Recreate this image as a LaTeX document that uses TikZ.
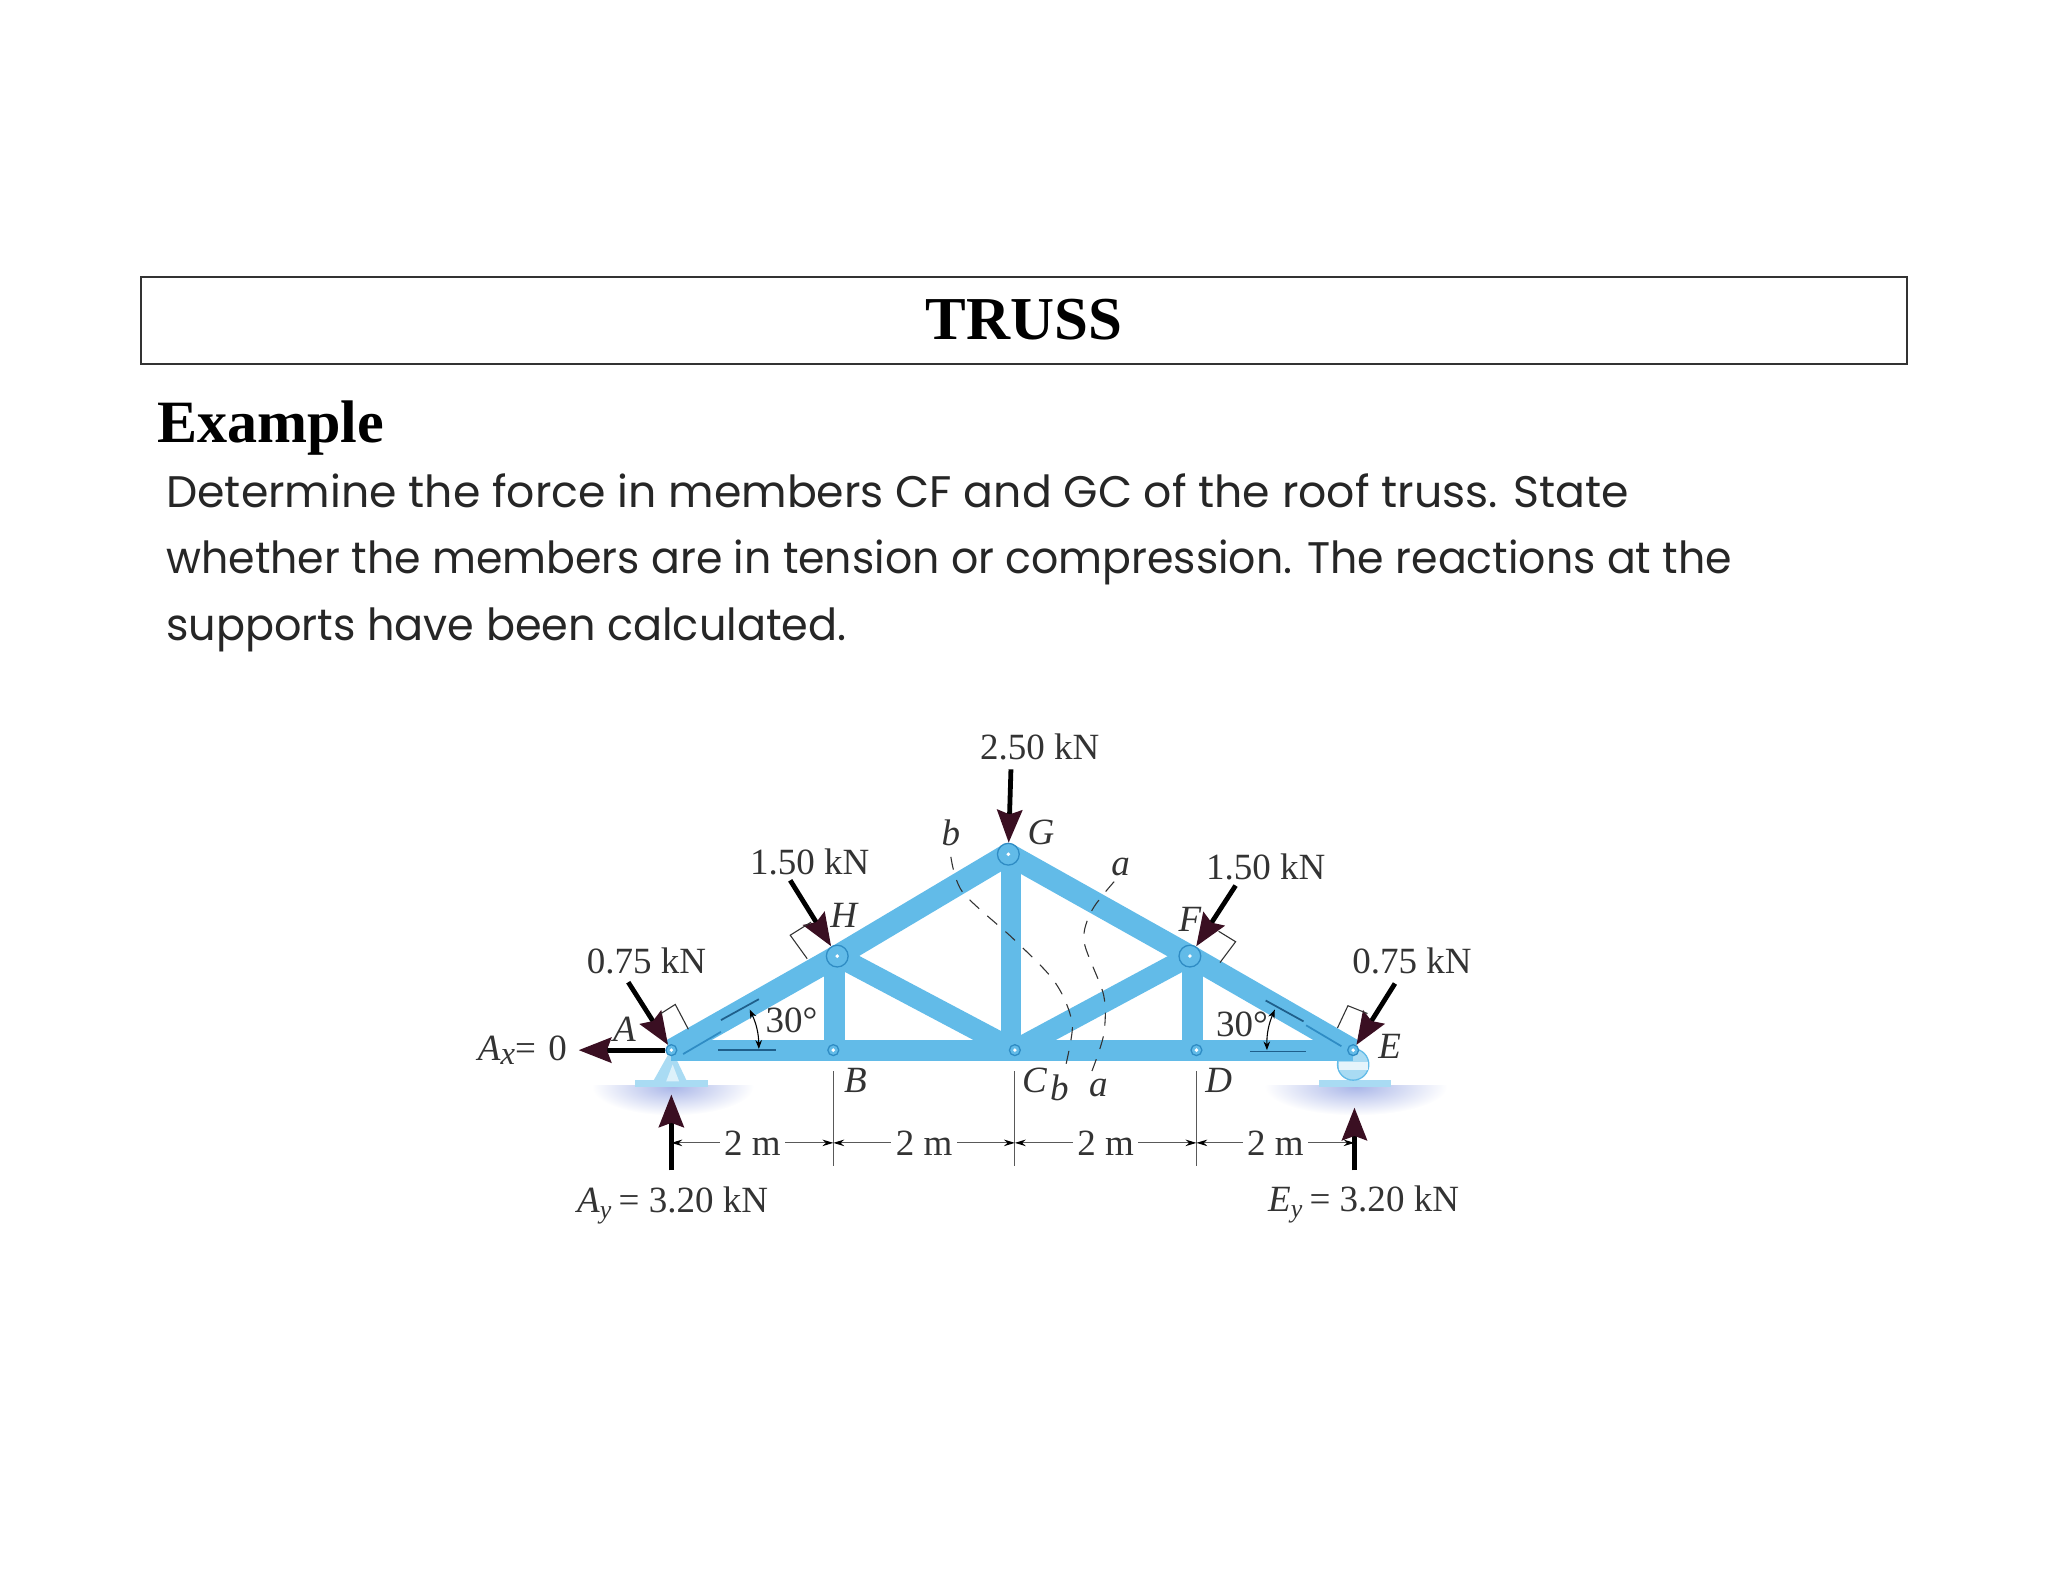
\documentclass[tikz,border=0pt]{standalone}
\usepackage{fontspec}
\setmainfont{Liberation Serif}
\newfontfamily\bodyfont{Poppins}
\usetikzlibrary{arrows.meta,backgrounds,shapes.geometric}
\definecolor{memberblue}{HTML}{62BBE8}
\definecolor{memberedge}{HTML}{2F8CC4}
\definecolor{seatblue}{HTML}{A9DBF3}
\definecolor{groundblue}{HTML}{A9B6E8}
\definecolor{forcehead}{HTML}{3A0F22}
\definecolor{labelgray}{HTML}{333333}
\definecolor{anglemark}{HTML}{1F5F8B}
\tikzset{
  member/.style={draw=memberblue,line width=9.6pt},
  chord/.style={draw=memberblue,line width=10.2pt},
  pin/.style={circle,draw=memberedge,fill=memberblue,line width=.6pt,minimum size=5pt,inner sep=0pt,
    path picture={\fill[white] (path picture bounding box.center) circle (.9pt);}},
  bigpin/.style={pin,minimum size=10pt},
  force/.style={draw=black,line width=2.2pt,-{Stealth[length=15pt,width=11.5pt,inset=2pt,color=forcehead]}},
  tag/.style={font=\fontsize{17}{20}\selectfont,text=labelgray,inner sep=0pt},
  jointtag/.style={tag,font=\fontsize{17}{20}\selectfont\itshape},
  dimline/.style={draw=gray!70!black,line width=.5pt},
  dimarrow/.style={dimline,{Stealth[length=5pt,width=3pt,color=black]}-{Stealth[length=5pt,width=3pt,color=black]}},
  dimtext/.style={tag,fill=white,inner xsep=2pt,inner ysep=1pt},
  squaremark/.style={draw=labelgray,line width=.5pt},
  anglebar/.style={draw=anglemark,line width=.8pt},
  chordedge/.style={draw=memberedge,line width=.8pt},
  anglearc/.style={draw=black,line width=.5pt,{Stealth[length=4pt,width=3pt]}-{Stealth[length=4pt,width=3pt]}},
  cutline/.style={draw=labelgray,line width=.5pt,dash pattern=on 6pt off 5pt}
}
\begin{document}
\begin{tikzpicture}[x=0.6pt,y=-0.6pt]
  \useasboundingbox (0,0) rectangle (1568,1211);
  \draw[labelgray,line width=1pt] (108,212) rectangle (1460,279);
  \node (title) at (784,245) {\fontsize{28}{32}\selectfont\bfseries TRUSS};
  \node[anchor=base west,inner sep=0pt] (example) at (120,339) {\fontsize{27.6}{32}\selectfont\bfseries Example};
  \node[anchor=north west,inner sep=0pt,align=left,text=black!85,font=\bodyfont\fontsize{20.3}{30.6}\selectfont] (question) at (127,362)
    {Determine the force in members CF and GC of the roof truss. State\\
     \scalebox{.965}[1]{whether the members are in tension or compression. The reactions at the}\\
     \scalebox{.972}[1]{supports have been calculated.}};
  \draw
    (514,804) node[pin] (A){}
    (638,804) node[pin] (B){}
    (777,804) node[pin] (C){}
    (916,804) node[pin] (D){}
    (1036,804) node[pin] (E){}
    (641,732) node[bigpin] (H){}
    (772,654) node[bigpin] (G){}
    (911,732) node[bigpin] (F){};
  \begin{scope}[on background layer]
    \shade[inner color=groundblue,outer color=white] (515,832) ellipse (62 and 22);
    \shade[inner color=groundblue,outer color=white] (1038,832) ellipse (70 and 22);
    \fill[white] (440,800) rectangle (590,831);
    \fill[white] (960,800) rectangle (1110,831);
    \fill[seatblue] (486,827) rectangle (542,832);
    \fill[seatblue] (1010,827) rectangle (1065,832);
    \fill[seatblue] (514,803) -- (526,828) -- (500,828) -- cycle;
    \fill[white!60!seatblue] (515,815) -- (520,828) -- (510,828) -- cycle;
    \draw[memberblue,fill=seatblue,line width=.6pt] (1036,815) circle (12);
    \fill[white!70!seatblue] (1025,813) rectangle (1047,819);
    \begin{scope}[member]
      \draw[member] (A.center) to (B.center);
      \draw[member] (B.center) to (C.center);
      \draw[member] (C.center) to (D.center);
      \draw[member] (D.center) to (E.center);
      \draw[member] (639,804) to (639,732);
      \draw[member] (774,804) to (774,654);
      \draw[member] (913,804) to (913,732);
      \draw[member] (H.center) to (C.center);
      \draw[member] (F.center) to (C.center);
      \draw[chord] (A.center) to (H.center);
      \draw[chord] (H.center) to (G.center);
      \draw[chord] (G.center) to (F.center);
      \draw[chord] (F.center) to (E.center);
    \end{scope}
  \end{scope}
  \draw
    (774,589) coordinate (tailG)
    (605,674) coordinate (tailH)
    (481,752) coordinate (tailA)
    (443,804) coordinate (headAx)
    (514,896) coordinate (tailAy)
    (514,838) coordinate (headAy)
    (946,678) coordinate (tailF)
    (1068,753) coordinate (tailE)
    (1037,896) coordinate (tailEy)
    (1037,848) coordinate (headEy);
  \begin{scope}[force]
    \draw[force] (tailG) to (G);
    \draw[force] (tailH) to (H);
    \draw[force] (tailA) to (A);
    \draw[force] (A) to (headAx);
    \draw[force] (tailAy) to (headAy);
    \draw[force] (tailF) to (F);
    \draw[force] (tailE) to (E);
    \draw[force] (tailEy) to (headEy);
  \end{scope}
  \draw
    (796,572) node[tag] (loadG){2.50 kN}
    (620,660) node[tag] (loadH){1.50 kN}
    (495,736) node[tag] (loadA){0.75 kN}
    (969,664) node[tag] (loadF){1.50 kN}
    (1081,736) node[tag] (loadE){0.75 kN}
    (400,804) node[tag] (reactAx){\textit{A}\raisebox{-1.5pt}{\fontsize{15}{16}\selectfont\textit{x}}=\,\,0}
    (515,923) node[tag] (reactAy){\textit{A}\textsubscript{\textit{y}}\,= 3.20 kN}
    (1044,922) node[tag] (reactEy){\textit{E}\textsubscript{\textit{y}}\,= 3.20 kN}
    (797,637) node[jointtag] (nameG){G}
    (646,701) node[jointtag] (nameH){H}
    (911,704) node[jointtag] (nameF){F}
    (478,788) node[jointtag] (nameA){A}
    (1064,801) node[jointtag] (nameE){E}
    (655,827) node[jointtag] (nameB){B}
    (792,827) node[jointtag] (nameC){C}
    (933,827) node[jointtag] (nameD){D}
    (728,638) node[jointtag] (cutbtop){b}
    (858,664) node[jointtag] (cutatop){a}
    (811,833) node[jointtag] (cutbend){b}
    (841,833) node[jointtag] (cutaend){a}
    (606,781) node[tag] (angleleft){30\textdegree}
    (951,784) node[tag] (angleright){30\textdegree};
  \draw[cutline] plot[smooth] coordinates {(728,656) (737,683) (775,718) (803,746) (815,765) (821,787) (815,820)};
  \draw[cutline] plot[smooth] coordinates {(853,675) (836,697) (830,721) (845,762) (845,792) (836,820)};
  \draw
    (514,875) coordinate (dim0)
    (638,875) coordinate (dim1)
    (777,875) coordinate (dim2)
    (916,875) coordinate (dim3)
    (1037,875) coordinate (dim4)
    (638,820) coordinate (ext1top)
    (777,820) coordinate (ext2top)
    (916,820) coordinate (ext3top)
    (638,893) coordinate (ext1end)
    (777,893) coordinate (ext2end)
    (916,893) coordinate (ext3end);
  \begin{scope}[dimline]
    \draw[dimline] (ext1top) to (ext1end);
    \draw[dimline] (ext2top) to (ext2end);
    \draw[dimline] (ext3top) to (ext3end);
    \draw[dimarrow] (dim0) to node[dimtext] (span1){2 m} (dim1);
    \draw[dimarrow] (dim1) to node[dimtext] (span2){2 m} (dim2);
    \draw[dimarrow] (dim2) to node[dimtext] (span3){2 m} (dim3);
    \draw[dimarrow] (dim3) to node[dimtext] (span4){2 m} (dim4);
  \end{scope}
  \draw[squaremark] (618,734) -- (605,716) -- (621,706);
  \draw[squaremark] (527,788) -- (517,769) -- (506,776);
  \draw[squaremark] (934,737) -- (946,721) -- (933,713);
  \draw[squaremark] (1024,787) -- (1032,770) -- (1047,776);
  \draw[chordedge] (523,807) -- (552,790);
  \draw[chordedge] (1000,785) -- (1027,801);
  \draw[anglebar] (550,804) -- (594,804);
  \draw[anglebar] (552,781) -- (581,765);
  \draw[anglebar] (957,805) -- (1000,805);
  \draw[anglebar] (969,766) -- (998,782);
  \draw[anglearc] (574,773) to[bend left=12] (581,803);
  \draw[anglearc] (976,773) to[bend right=12] (970,804);
\end{tikzpicture}
\end{document}
